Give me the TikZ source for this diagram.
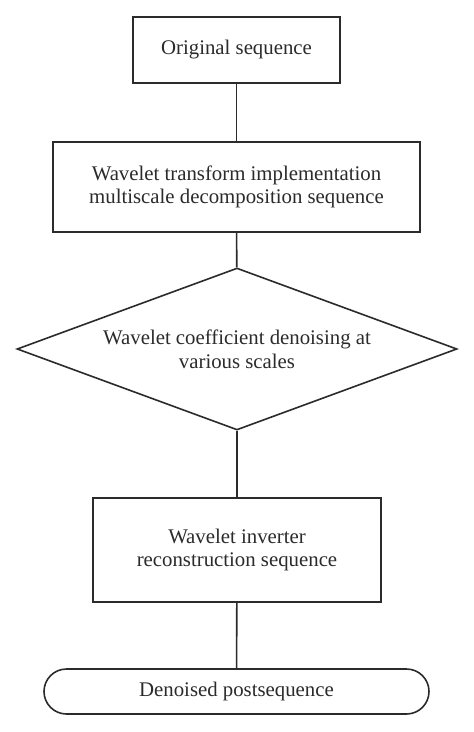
\documentclass[tikz,border=0pt]{standalone}
\usepackage{fontspec}
\setmainfont{Liberation Serif}
\usepackage{xcolor}
\usepackage{tikz}
\usetikzlibrary{shapes.geometric, positioning}
\definecolor{FlowInk}{HTML}{2B2B2B}
\tikzset{
    % Process step (rectangle)
    process/.style={rectangle, draw=FlowInk, line width=0.8pt, fill=white,
        align=center, text=FlowInk, font=\fontsize{10.4}{11.8}\selectfont},
    % Decision (diamond)
    decision/.style={diamond, aspect=2.7, draw=FlowInk, line width=0.8pt, fill=white,
        inner sep=0pt, align=center, text=FlowInk, font=\fontsize{10.4}{11.8}\selectfont},
    % Terminal (rounded ends)
    terminal/.style={rectangle, rounded corners=11.25pt, draw=FlowInk, line width=0.8pt,
        fill=white, align=center, text=FlowInk, font=\fontsize{10.4}{11.8}\selectfont},
    % Connection line
    flowline/.style={draw=FlowInk, line width=0.8pt},
}
\begin{document}
\begin{tikzpicture}[x=0.5pt, y=-0.5pt]
    \useasboundingbox (0,0) rectangle (474,732);
    \node[process, minimum width=103.5pt, minimum height=33pt] (orig) at (236.5,50) {Original sequence};
    \node[process, minimum width=183.5pt, minimum height=45pt] (decomp) at (236.5,187)
        {Wavelet transform implementation\\multiscale decomposition sequence};
    \node[decision, minimum width=220pt, minimum height=81pt] (denoise) at (237,349)
        {Wavelet coefficient denoising at\\various scales};
    \node[process, minimum width=144pt, minimum height=52pt] (recon) at (237,550)
        {Wavelet inverter\\reconstruction sequence};
    \node[terminal, minimum width=192.5pt, minimum height=22.5pt] (post) at (236.5,691.5)
        {Denoised postsequence};
    \draw[flowline] (orig) -- (decomp);
    \draw[flowline] (decomp) -- (denoise);
    \draw[flowline] (denoise) -- (recon);
    \draw[flowline] (recon) -- (post);
\end{tikzpicture}
\end{document}
